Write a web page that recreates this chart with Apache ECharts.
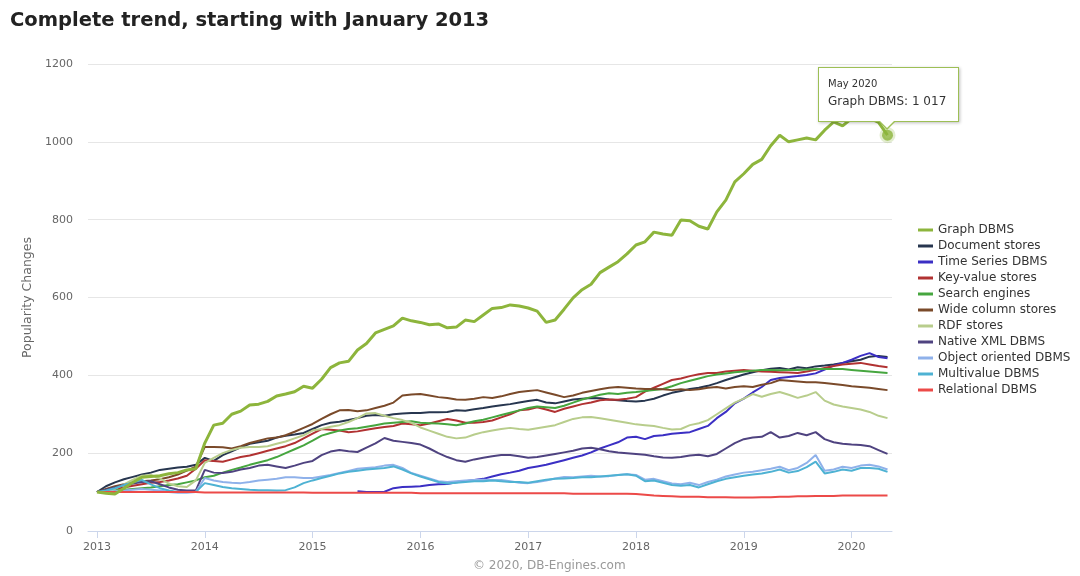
<!DOCTYPE html>
<html>
<head>
<meta charset="utf-8">
<script src="https://cdn.jsdelivr.net/npm/echarts@6/dist/echarts.min.js"></script>
<style>
html,body{margin:0;padding:0;background:#fff;}
#chart{width:1080px;height:576px;}
</style>
</head>
<body>
<div id="chart"></div>
<script>
// Month index 0 = January 2013 ... 88 = May 2020
const startYear = 2013;
const monthNames = ['January','February','March','April','May','June','July','August','September','October','November','December'];
const yearTicks = ['2013','2014','2015','2016','2017','2018','2019','2020'];
const seriesNames = ['Graph DBMS','Document stores','Time Series DBMS','Key-value stores','Search engines','Wide column stores','RDF stores','Native XML DBMS','Object oriented DBMS','Multivalue DBMS','Relational DBMS'];

const graphDBMS = [100,97,95,110,125,138,140,142,147,150,157,160,
  226,272,277,300,308,324,326,333,347,352,358,372,
  367,390,420,432,436,465,482,509,518,527,547,540,
  536,530,532,522,524,542,538,555,572,574,581,578,
  573,565,536,542,570,599,620,634,664,678,692,712,
  735,743,768,763,760,799,797,783,776,820,850,897,
  918,942,955,990,1017,1000,1005,1010,1005,1030,1051,1041,
  1060,1061,1061,1050,1017];
const documentStores = [100,115,125,133,139,145,150,157,160,163,165,170,
  188,180,195,205,215,224,228,232,240,245,248,252,
  262,272,278,281,285,290,296,298,296,300,302,303,
  303,305,305,306,310,309,313,316,320,323,326,330,
  334,337,330,328,333,338,340,342,341,338,336,334,
  333,335,340,348,355,360,365,368,373,380,388,395,
  402,408,413,417,419,415,421,418,423,425,428,432,
  436,440,448,450,447];
const timeSeries = [null,null,null,null,null,null,null,null,null,null,null,null,
  null,null,null,null,null,null,null,null,null,null,null,null,
  null,null,null,null,null,102,100,100,101,110,113,114,
  115,118,120,121,125,128,131,134,140,146,150,155,
  162,166,170,176,182,188,194,202,212,220,228,240,
  242,236,244,246,250,252,254,262,270,290,306,328,
  340,356,370,388,393,396,398,401,405,415,425,432,
  440,450,457,447,444];
const keyValue = [100,104,108,112,116,120,124,126,130,135,142,160,
  182,180,178,184,190,194,200,206,212,218,226,238,
  250,262,260,258,254,256,260,264,267,270,276,274,
  272,276,282,288,284,278,278,280,284,292,300,310,
  312,318,312,306,314,320,326,330,336,338,337,340,
  344,358,368,378,388,392,398,403,406,406,410,412,
  414,412,410,409,408,407,406,410,414,419,424,428,
  430,432,428,424,421];
const searchEngines = [100,102,104,106,108,110,112,115,118,120,125,130,
  138,142,150,157,163,170,176,182,190,200,210,220,
  232,245,252,258,262,264,268,272,276,278,280,282,
  278,277,276,274,272,276,282,286,292,298,304,310,
  316,320,318,316,322,330,338,344,350,354,352,355,
  357,360,362,365,372,380,386,392,398,402,405,408,
  410,412,414,414,413,414,414,415,416,416,416,416,
  414,412,410,408,406];
const wideColumn = [100,108,115,120,124,128,130,133,138,145,155,165,
  216,216,215,212,218,226,232,238,240,246,255,265,
  275,288,300,310,311,308,310,316,322,330,348,351,
  352,348,344,342,338,337,340,344,342,346,352,357,
  360,362,356,350,344,348,355,360,364,368,370,368,
  366,365,365,364,362,364,362,364,368,370,366,370,
  372,370,376,380,388,386,384,382,382,380,378,375,
  372,370,368,365,362];
const rdfStores = [100,98,108,120,132,142,144,135,122,115,113,130,
  175,188,200,208,214,216,216,218,224,230,238,246,
  258,262,268,272,280,290,302,303,296,290,285,278,
  266,258,250,242,238,240,248,254,258,262,265,262,
  260,264,268,272,280,288,292,293,290,286,282,278,
  274,272,270,265,261,262,272,277,285,300,315,330,
  340,352,345,352,357,350,342,348,357,335,325,320,
  316,312,306,296,290];
const nativeXML = [100,106,112,118,122,126,128,120,112,106,104,104,
  157,150,149,152,158,162,168,170,166,162,168,175,
  180,195,204,208,205,203,214,225,239,232,229,226,
  222,212,200,190,182,178,184,188,192,195,195,192,
  188,190,194,198,202,206,212,214,210,205,202,200,
  198,196,192,189,188,190,194,196,192,198,212,226,
  236,240,242,254,240,244,252,246,254,236,228,224,
  222,221,218,208,198];
const objectOriented = [100,100,102,104,106,108,106,104,100,98,98,100,
  136,130,126,124,123,126,130,132,134,138,138,136,
  136,140,144,149,154,160,162,164,168,170,162,149,
  142,135,128,126,128,130,131,132,131,131,128,124,
  123,126,130,135,139,138,140,142,140,141,144,146,
  144,132,134,128,122,120,124,118,126,132,140,145,
  150,152,156,160,165,156,162,175,195,155,158,165,
  162,168,170,166,158];
const multivalue = [100,104,110,118,125,131,120,110,104,100,100,100,
  123,118,113,110,108,106,105,105,104,105,112,123,
  130,136,142,148,152,155,158,160,162,166,158,148,
  140,133,126,122,124,126,128,128,130,128,126,126,
  124,128,132,134,135,136,138,138,140,142,144,146,
  142,128,130,124,118,116,118,112,120,128,134,138,
  142,145,148,152,158,150,154,164,178,148,152,158,
  155,162,162,160,152];
const relational = [100,100,100,100,100,100,100,100,100,100,100,100,
  99,99,99,99,99,99,99,99,99,99,99,99,
  98,98,98,98,98,98,98,98,98,98,98,98,
  97,97,97,97,97,97,97,97,97,97,97,97,
  97,97,97,97,97,96,96,96,96,96,96,96,
  95,93,91,90,89,88,88,88,87,87,87,86,
  86,86,87,87,88,88,89,89,90,90,90,91,
  91,91,91,91,91];

const seriesValues = [graphDBMS,documentStores,timeSeries,keyValue,searchEngines,wideColumn,rdfStores,nativeXML,objectOriented,multivalue,relational];
const seriesColors = ['#8db53c','#27364f','#3b2fc4','#b13232','#46a63f','#7a4a2a','#b8cd8c','#4f4380','#8fb1ea','#4eb2d3','#ec4a48'];

const yearTickValues = yearTicks.map((y, i) => i * 12);
const toPairs = arr => arr.map((v, i) => [i, v]).filter(d => d[1] !== null);

const lastIdx = graphDBMS.length - 1;
const lastLabel = monthNames[lastIdx % 12].slice(0,3) + ' ' + (startYear + Math.floor(lastIdx / 12));

const series = seriesValues.map((vals, k) => ({
  name: seriesNames[k],
  type: 'line',
  data: toPairs(vals),
  showSymbol: false,
  symbol: 'none',
  silent: true,
  z: k === 0 ? 5 : 3,
  lineStyle: { width: k === 0 ? 3 : 2, color: seriesColors[k] },
  itemStyle: { color: seriesColors[k] },
  emphasis: { disabled: true }
}));
series.push({
  name: 'hover',
  type: 'scatter',
  data: [[lastIdx, graphDBMS[lastIdx]]],
  symbolSize: 11,
  z: 10,
  itemStyle: { color: '#8db53c', borderColor: 'rgba(141,181,60,0.3)', borderWidth: 5 },
  emphasis: { disabled: true },
  tooltip: {
    formatter: () =>
      '<div style="font-size:10px;color:#333;line-height:16px;">' + lastLabel + '</div>' +
      '<div style="font-size:12px;color:#333;line-height:18px;">Graph DBMS: ' +
      graphDBMS[lastIdx].toLocaleString('en-US').replace(',', ' ') + '</div>' +
      '<div style="position:absolute;left:60px;bottom:-9px;width:0;height:0;border-left:8px solid transparent;border-right:8px solid transparent;border-top:8px solid #9dbf55;"></div>' +
      '<div style="position:absolute;left:61px;bottom:-7px;width:0;height:0;border-left:7px solid transparent;border-right:7px solid transparent;border-top:7px solid #fff;"></div>'
  }
});

const chart = echarts.init(document.getElementById('chart'), null, { renderer: 'canvas' });
chart.setOption({
  backgroundColor: '#ffffff',
  animation: false,
  textStyle: { fontFamily: 'DejaVu Sans' },
  title: [
    { text: 'Complete trend, starting with January 2013', left: 5, top: 6,
      textStyle: { fontSize: 19.5, fontWeight: 'bold', color: '#222', fontFamily: 'DejaVu Sans' } },
    { text: '© 2020, DB-Engines.com', left: 468, top: 555,
      textStyle: { fontSize: 12, fontWeight: 'normal', color: '#999', fontFamily: 'DejaVu Sans' } }
  ],
  tooltip: {
    trigger: 'item',
    alwaysShowContent: true,
    position: [818, 67],
    backgroundColor: '#ffffff',
    borderColor: '#9dbf55',
    borderWidth: 1,
    padding: [8, 14, 8, 9],
    extraCssText: 'border-radius:0;box-shadow:1px 1px 3px rgba(0,0,0,0.25);width:116px;height:37px;',
    transitionDuration: 0
  },
  legend: {
    data: seriesNames,
    orient: 'vertical',
    left: 913,
    top: 218,
    itemWidth: 15,
    itemHeight: 3,
    itemGap: 2,
    icon: 'rect',
    selectedMode: false,
    textStyle: { fontSize: 12, color: '#333', lineHeight: 14, padding: [0, 0, 0, 0] }
  },
  grid: { left: 88, right: 188, top: 64, bottom: 45, containLabel: false },
  xAxis: {
    type: 'value',
    min: -1,
    max: 88.5,
    splitLine: { show: false },
    axisLine: { show: true, lineStyle: { color: '#ccd6eb', width: 1 } },
    axisTick: { show: true, length: 7, lineStyle: { color: '#ccd6eb' }, customValues: yearTickValues },
    axisLabel: {
      color: '#666', fontSize: 11, margin: 11,
      customValues: yearTickValues,
      formatter: v => yearTicks[Math.round(v / 12)]
    }
  },
  yAxis: {
    type: 'value',
    min: 0,
    max: 1200,
    interval: 200,
    name: 'Popularity Changes',
    nameLocation: 'middle',
    nameGap: 51,
    nameRotate: 90,
    nameTextStyle: { color: '#666', fontSize: 12.5 },
    axisLine: { show: false },
    axisTick: { show: false },
    axisLabel: { color: '#666', fontSize: 11, margin: 15, formatter: v => String(v) },
    splitLine: { lineStyle: { color: '#e6e6e6', width: 1 } }
  },
  series: series
});
chart.dispatchAction({ type: 'showTip', seriesIndex: 11, dataIndex: 0 });
</script>
</body>
</html>
